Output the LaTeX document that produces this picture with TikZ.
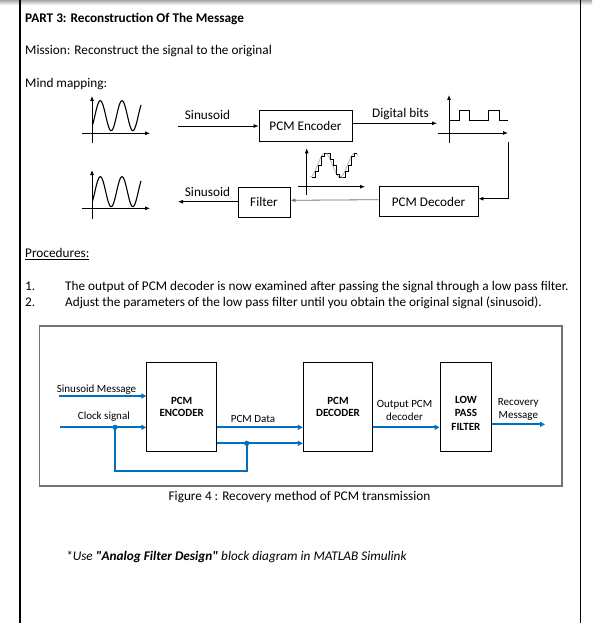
\documentclass[tikz,border=0pt]{standalone}
\usepackage{fontspec}
\setmainfont{Carlito}[Ligatures=TeXOff]
\usetikzlibrary{arrows.meta}
\definecolor{fblue}{HTML}{0070C0}
\begin{document}
\begin{tikzpicture}[x=1pt,y=-1pt,
  body/.style={font=\fontsize{13.25}{16}\selectfont, inner sep=0pt},
  mbox/.style={draw, line width=0.8pt, font=\fontsize{13.2}{16}\selectfont, inner sep=0pt},
  marr/.style={line width=0.8pt, -{Latex[length=5pt,width=4pt]}},
  axisarr/.style={line width=0.8pt, -{Latex[length=5pt,width=4pt]}},
  wave/.style={line width=1.1pt, line join=round},
  fbox/.style={draw, line width=0.9pt, font=\fontsize{11}{12.7}\selectfont\bfseries, align=center, inner sep=0pt},
  flab/.style={font=\fontsize{11}{13.5}\selectfont, inner sep=0pt, align=center},
  fbold/.style={font=\fontsize{11}{13.3}\selectfont\bfseries, inner sep=0pt, align=center},
  barr/.style={draw=fblue, line width=1.8pt, -{Triangle[length=5pt,width=5pt]}},
  bline/.style={draw=fblue, line width=1.8pt},
]
\useasboundingbox (0,0) rectangle (592,623);
\fill[white] (0,0) rectangle (592,623);
\shade[top color=black!35, bottom color=white] (0,0) rectangle (592,5);
\draw[line width=1.5pt] (20,0) -- (20,623);
\draw[line width=1.5pt] (580.5,0) -- (580.5,623);

% header texts
\node[body, anchor=base west] (title) at (25,23) {\textbf{PART 3: Reconstruction Of The Message}};
\node[body, anchor=base west] (mission) at (25,55) {Mission: Reconstruct the signal to the original};
\node[body, anchor=base west] (mind) at (25,87.5) {Mind mapping:};

% ---------- mind map ----------
% top sinusoid plot
\draw[axisarr] (92,143) -- (92,96);
\draw[axisarr] (82,133.3) -- (150,133.3);
\draw[wave] plot[domain=92.5:141, samples=120, smooth] (\x, {115.7-15*cos(360*(\x-100.3)/21.7)});
% bottom sinusoid plot
\draw[axisarr] (92,218.5) -- (92,170);
\draw[axisarr] (82,208.3) -- (150,208.3);
\draw[wave] plot[domain=92.5:141, samples=120, smooth] (\x, {191.7-15*cos(360*(\x-100.3)/21.7)});

\node[mbox, minimum width=93pt, minimum height=31pt] (enc) at (305.5,125.5) {PCM Encoder};
\node[mbox, minimum width=52pt, minimum height=30pt] (filt) at (264,202.3) {Filter};
\node[mbox, minimum width=99pt, minimum height=30pt] (dec) at (428.5,201.7) {PCM Decoder};

\coordinate (s1) at (178,126);
\draw[marr] (s1) -- (s1 -| enc.west);
\node[body, anchor=base] (lsin1) at (207.5,120) {Sinusoid};

\coordinate (d1) at (437,123.3);
\draw[marr] (enc.east |- d1) -- (d1);
\node[body, anchor=base west] (ldig) at (372,117.5) {Digital bits};

% digital bits plot
\draw[axisarr] (449,143) -- (449,95);
\draw[axisarr] (438,133) -- (508,133);
\draw[line width=0.9pt] (449,120) -- (459.3,120) -- (459.3,110.7) -- (469,110.7) -- (469,120) -- (488.3,120) -- (488.3,110.7) -- (499,110.7) -- (499,120) -- (508,120);

\coordinate (r1) at (508.3,141.7);
\draw[marr] (r1) |- ([yshift=3pt]dec.east);
\draw[marr, black!55] ([yshift=2pt]dec.west) -- ([yshift=2pt]filt.east);

\coordinate (s2) at (178,201.7);
\draw[marr] (filt.west |- s2) -- (s2);
\node[body, anchor=base] (lsin2) at (207.5,196.7) {Sinusoid};

% staircase plot
\draw[axisarr] (306.7,195) -- (306.7,148.3);
\draw[axisarr] (298,186.7) -- (365,186.7);
\draw[black!40, line width=0.5pt] plot[domain=310:358, samples=80, smooth] (\x, {165-12*cos(12*(\x-325))});
\draw[line width=0.9pt] plot[const plot, domain=312:357, samples=16] (\x, {3*round((165-12*cos(12*(\x-325)))/3)});

% ---------- procedures ----------
\node[body, anchor=base west] (proc) at (25,257.5) {\underline{Procedures:}};
\node[body, anchor=base west] (n1) at (25,290.5) {1.};
\node[body, anchor=base west] (t1) at (65,290.5) {The output of PCM decoder is now examined after passing the signal through a low pass filter.};
\node[body, anchor=base west] (n2) at (25,306.3) {2.};
\node[body, anchor=base west] (t2) at (65,306.3) {Adjust the parameters of the low pass filter until you obtain the original signal (sinusoid).};

% ---------- figure 4 ----------
\draw[black!55, line width=1.5pt] (39.3,326) rectangle (562,485.8);

\node[fbox, minimum width=70pt, minimum height=89.4pt] (enc2) at (181.7,407) {PCM\\ENCODER};
\node[fbox, minimum width=69.4pt, minimum height=89.4pt] (dec2) at (338,407) {PCM\\DECODER};
\node[draw, line width=0.9pt, minimum width=51.7pt, minimum height=89.4pt, inner sep=0pt] (lpf) at (465.9,407) {};
\node[fbold, anchor=base] (lpft) at (465.9,430) {LOW\\PASS\\FILTER};

\coordinate (sm) at (59.3,396);
\coordinate (cs) at (60,427.3);
\coordinate (j1) at (115,427.3);
\coordinate (j2) at (246.7,443.3);
\coordinate (rm) at (545,424.3);

\draw[barr] (sm) -- (sm -| enc2.west);
\draw[barr] (cs) -- (cs -| enc2.west);
\draw[bline] (j1) -- (115,470.7) -| (j2);
\draw[barr] (enc2.east |- j2) -- (dec2.west |- j2);
\fill[fblue] (j1) circle (2.6pt);
\fill[fblue] (j2) circle (2.6pt);
\draw[barr] (enc2.east |- cs) -- (dec2.west |- cs);
\draw[barr] (dec2.east |- cs) -- (lpf.west |- cs);
\draw[barr] (lpf.east |- rm) -- (rm);

\node[flab, anchor=base west] (lsm) at (56.7,392.5) {Sinusoid Message};
\node[flab, anchor=base west] (lcs) at (77.7,419.8) {Clock signal};
\node[flab, anchor=base west] (lpd) at (230.7,422.7) {PCM Data};
\node[flab, anchor=base] (lop) at (404.5,420.7) {Output PCM\\decoder};
\node[flab, anchor=base] (lrm) at (518.3,418.7) {Recovery\\Message};

\node[body, anchor=base] (cap) at (299.5,500.5) {Figure 4 : Recovery method of PCM transmission};
\node[body, anchor=base west] (use) at (66,560.5) {\textit{*Use \textbf{"Analog Filter Design"} block diagram in MATLAB Simulink}};
\end{tikzpicture}
\end{document}
